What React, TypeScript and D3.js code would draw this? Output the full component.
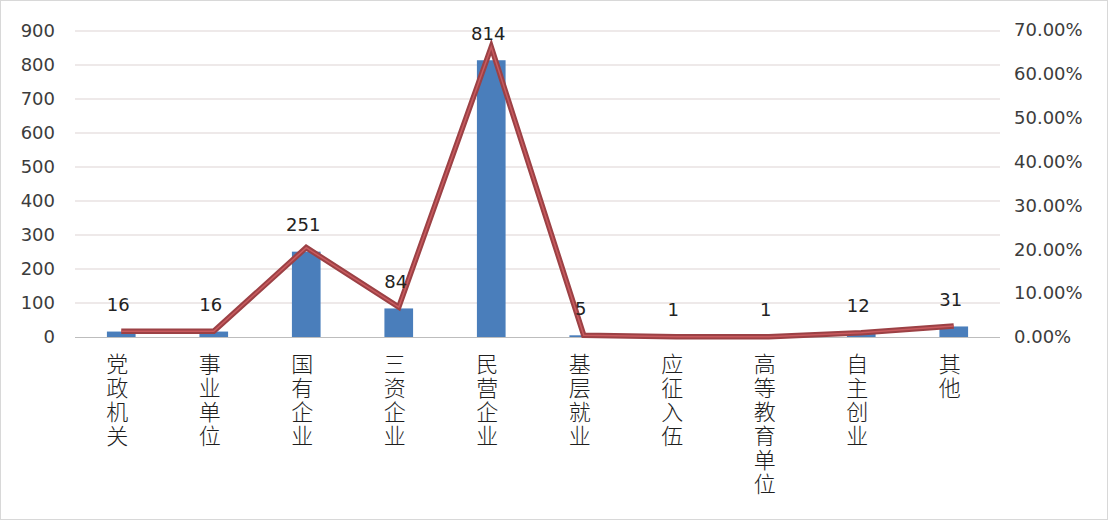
import React, { useEffect, useRef } from 'react';
import * as d3 from 'd3';

const categories = ['党政机关', '事业单位', '国有企业', '三资企业', '民营企业', '基层就业', '应征入伍', '高等教育单位', '自主创业', '其他'];
const counts = [16, 16, 251, 84, 814, 5, 1, 1, 12, 31];
const leftTicks = [0, 100, 200, 300, 400, 500, 600, 700, 800, 900];
const rightTicks = [0, 0.1, 0.2, 0.3, 0.4, 0.5, 0.6, 0.7];

const App: React.FC = () => {
  const svgRef = useRef<SVGSVGElement>(null);

  useEffect(() => {
    if (!svgRef.current) return;
    document.body.style.margin = '0';

    const svg = d3.select(svgRef.current);
    svg.selectAll('*').remove();

    const width = 1108;
    const height = 520;
    const plotLeft = 75;
    const plotRight = 1000;
    const y0 = 337;
    const yTop = 31;

    svg.attr('width', width).attr('height', height);

    svg.append('rect')
      .attr('x', 0.5).attr('y', 0.5)
      .attr('width', width - 1).attr('height', height - 1)
      .style('fill', '#fff')
      .style('stroke', '#d8d8d8');

    const total = d3.sum(counts);
    const shares = counts.map(c => c / total);

    const x = d3.scaleBand<string>()
      .domain(categories)
      .range([plotLeft, plotRight])
      .paddingInner(0.69)
      .paddingOuter(0.345);

    const yLeft = d3.scaleLinear().domain([0, 900]).range([y0, yTop]);
    const yRight = d3.scaleLinear().domain([0, 0.7]).range([y0, yTop - 1]);

    // gridlines
    svg.append('g')
      .selectAll('line')
      .data(leftTicks.slice(1))
      .enter()
      .append('line')
      .attr('x1', plotLeft)
      .attr('x2', plotRight)
      .attr('y1', d => yLeft(d))
      .attr('y2', d => yLeft(d))
      .style('stroke', '#ddd3d3')
      .style('stroke-width', 1);

    // left axis labels
    svg.append('g')
      .selectAll('text')
      .data(leftTicks)
      .enter()
      .append('text')
      .attr('x', 55)
      .attr('y', d => yLeft(d))
      .attr('dy', '0.35em')
      .style('text-anchor', 'end')
      .style('font-family', '"DejaVu Sans", sans-serif')
      .style('font-size', '18px')
      .style('fill', '#3c3c3c')
      .text(d => d);

    // right axis labels
    const pct = d3.format('.2%');
    svg.append('g')
      .selectAll('text')
      .data(rightTicks)
      .enter()
      .append('text')
      .attr('x', 1014)
      .attr('y', d => yRight(d))
      .attr('dy', '0.35em')
      .style('text-anchor', 'start')
      .style('font-family', '"DejaVu Sans", sans-serif')
      .style('font-size', '18px')
      .style('fill', '#3c3c3c')
      .text(d => pct(d));

    // bars
    svg.append('g')
      .selectAll('rect')
      .data(counts)
      .enter()
      .append('rect')
      .attr('x', (d, i) => x(categories[i]) as number)
      .attr('y', d => yLeft(d))
      .attr('width', x.bandwidth())
      .attr('height', d => y0 - yLeft(d))
      .style('fill', '#4a7ebb');

    // baseline
    svg.append('line')
      .attr('x1', plotLeft)
      .attr('x2', plotRight)
      .attr('y1', y0 + 0.5)
      .attr('y2', y0 + 0.5)
      .style('stroke', '#bdbdbd')
      .style('stroke-width', 1);

    // share line
    const cx = (i: number) => (x(categories[i]) as number) + x.bandwidth() / 2;
    const line = d3.line<number>()
      .x((d, i) => cx(i))
      .y(d => yRight(d));

    svg.append('path')
      .datum(shares)
      .attr('d', line)
      .style('fill', 'none')
      .style('stroke', '#9c4145')
      .style('stroke-width', 5.5)
      .style('stroke-linejoin', 'miter');

    svg.append('path')
      .datum(shares)
      .attr('d', line)
      .style('fill', 'none')
      .style('stroke', '#c95b5f')
      .style('stroke-width', 1.5);

    // value labels
    svg.append('g')
      .selectAll('text')
      .data(counts)
      .enter()
      .append('text')
      .attr('x', (d, i) => cx(i) - 3)
      .attr('y', d => yLeft(d) - 27)
      .attr('dy', '0.35em')
      .style('text-anchor', 'middle')
      .style('font-family', '"DejaVu Sans", sans-serif')
      .style('font-size', '18px')
      .style('fill', '#222')
      .text(d => d);

    // category labels, written top to bottom
    svg.append('g')
      .selectAll('text')
      .data(categories)
      .enter()
      .append('text')
      .attr('x', (d, i) => cx(i) - 4)
      .attr('y', 353)
      .style('writing-mode', 'vertical-rl')
      .style('text-anchor', 'start')
      .style('letter-spacing', '2px')
      .style('font-family', '"Noto Sans CJK SC", sans-serif')
      .style('font-size', '22px')
      .style('font-weight', 300)
      .style('fill', '#1e1e1e')
      .text(d => d);
  }, []);

  return (
    <div>
      <svg ref={svgRef} style={{ display: 'block' }} />
    </div>
  );
};

export default App;
